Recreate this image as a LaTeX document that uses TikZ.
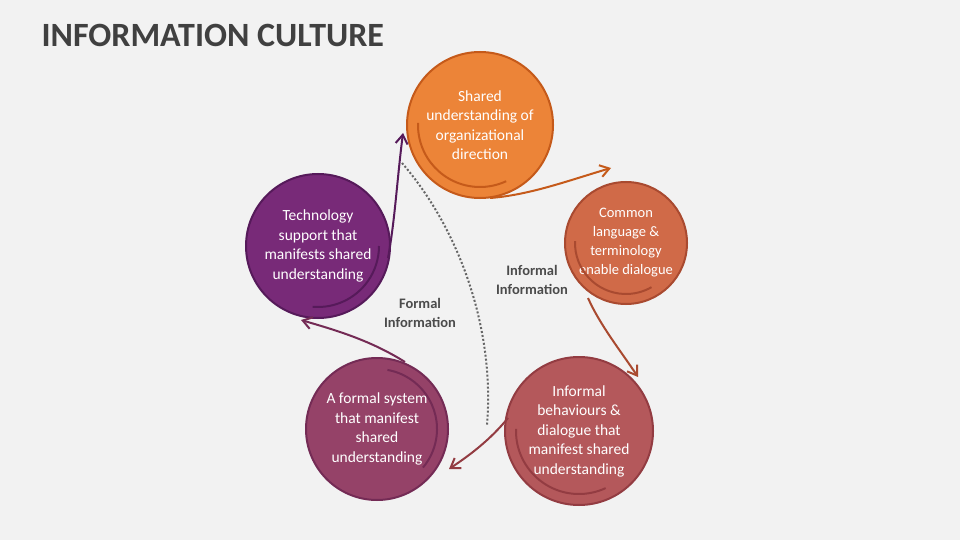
\documentclass[tikz,border=0pt]{standalone}
\usepackage{fontspec}
\setmainfont{Carlito}
\usetikzlibrary{arrows.meta}
\definecolor{bg}{HTML}{F2F2F2}
\definecolor{cA}{HTML}{EC8438}\definecolor{bA}{HTML}{C55A1A}
\definecolor{cB}{HTML}{D06A48}\definecolor{bB}{HTML}{A94A30}
\definecolor{cC}{HTML}{B4585B}\definecolor{bC}{HTML}{933C42}
\definecolor{cD}{HTML}{954268}\definecolor{bD}{HTML}{742B55}
\definecolor{cE}{HTML}{782A78}\definecolor{bE}{HTML}{561A5A}
\tikzset{
 bub/.style={circle,draw=#1,line width=2pt,text=white,align=center,font=\fontsize{15.5}{19.5}\selectfont,inner sep=0pt},
 arr/.style={line width=2pt,-{Straight Barb[length=9pt,width=12pt,line width=2pt]}},
 lbl/.style={text=black!70,font=\fontsize{14.5}{19}\selectfont\bfseries,align=center}
}
\begin{document}
\begin{tikzpicture}[x=1pt,y=1pt]
\fill[bg] (0,0) rectangle (960,-540);
\useasboundingbox (0,0) rectangle (960,-540);
\node[anchor=west,text=black!75,font=\fontsize{34}{36}\selectfont\bfseries] (title) at (38,-35) {INFORMATION CULTURE};
\node[bub=bA,fill=cA,minimum size=146pt] (a) at (480,-125) {Shared\\understanding of\\organizational\\direction};
\node[bub=bB,fill=cB,minimum size=122pt,font=\fontsize{14.5}{19}\selectfont] (b) at (626,-243) {Common\\language \&\\terminology\\enable dialogue};
\node[bub=bC,fill=cC,minimum size=148pt] (c) at (579,-431) {Informal\\behaviours \&\\dialogue that\\manifest shared\\understanding};
\node[bub=bD,fill=cD,minimum size=142pt] (d) at (377,-429) {A formal system\\that manifest\\shared\\understanding};
\node[bub=bE,fill=cE,minimum size=144pt] (e) at (318,-246) {Technology\\support that\\manifests shared\\understanding};
% inner arcs
\draw[bA,line width=2pt] (a.center) ++(178:62) arc[start angle=178,end angle=295,radius=62];
\draw[bB,line width=2pt] (b.center) ++(178:51) arc[start angle=178,end angle=300,radius=51];
\draw[bC,line width=2pt] (c.center) ++(178:63) arc[start angle=178,end angle=295,radius=63];
\draw[bD,line width=2pt] (d.center) ++(80:60) arc[start angle=80,end angle=-40,radius=60];
\draw[bE,line width=2pt] (e.center) ++(265:61) arc[start angle=265,end angle=360,radius=61];
% connectors
\coordinate (a1) at (490,-198);
\coordinate (b1) at (588,-298);
\coordinate (c1) at (508,-418);
\coordinate (d1) at (405,-362);
\coordinate (e1) at (388,-258);
\draw[arr,bA] (a1) .. controls (530,-195) and (570,-180) .. (611,-168);
\draw[arr,bB] (b1) .. controls (600,-325) and (620,-350) .. (638,-377);
\draw[arr,bC] (c1) .. controls (490,-440) and (470,-455) .. (449,-469);
\draw[arr,bD] (d1) .. controls (370,-340) and (335,-330) .. (301,-320);
\draw[arr,bE] (e1) .. controls (395,-220) and (397,-180) .. (403,-133);
\draw[black!60,line width=2pt,dotted] (402,-163) .. controls (460,-230) and (495,-330) .. (487,-425);
\node[lbl] (l1) at (532,-280) {Informal\\Information};
\node[lbl] (l2) at (420,-313) {Formal\\Information};
\end{tikzpicture}
\end{document}
